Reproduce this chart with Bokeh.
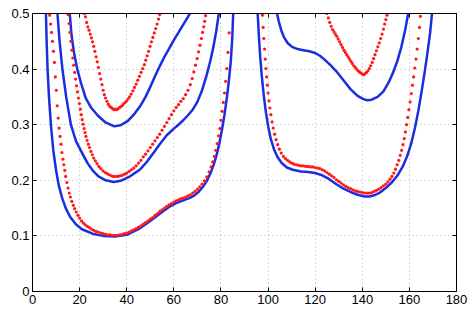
from bokeh.plotting import figure
from bokeh.models import Range1d, FixedTicker, LinearAxis
from bokeh.embed import file_html
from bokeh.resources import INLINE

# ---------------- data ----------------
x_ticks = [0, 20, 40, 60, 80, 100, 120, 140, 160, 180]
x_tick_labels = ["0", "20", "40", "60", "80", "100", "120", "140", "160", "180"]
y_ticks = [0, 0.1, 0.2, 0.3, 0.4, 0.5]
y_tick_labels = ["0", "0.1", "0.2", "0.3", "0.4", "0.5"]

# blue model curves (left / right lobes)
blue1_left_x = [5.7, 6.0, 6.4, 7.0, 7.8, 8.8, 10.0, 11.2, 12.6, 14.1, 16.0, 18.4, 21.0, 25.5, 30, 35, 40, 45, 50, 55,
                58, 61, 64, 66.5, 68.5, 70.5, 72.3, 74.0, 75.6, 77.0, 78.2, 79.3, 80.4, 81.5, 82.5, 83.4, 84.2, 84.8,
                85.2]
blue1_left_y = [0.5, 0.45, 0.40, 0.35, 0.30, 0.255, 0.218, 0.190, 0.168, 0.150, 0.134, 0.121, 0.112, 0.104, 0.100,
                0.099, 0.102, 0.112, 0.127, 0.143, 0.152, 0.159, 0.164, 0.168, 0.172, 0.179, 0.188, 0.199, 0.213,
                0.229, 0.246, 0.266, 0.29, 0.318, 0.348, 0.38, 0.415, 0.455, 0.5]
blue1_right_x = [95.6, 96.1, 96.7, 97.4, 98.2, 99.1, 100.1, 101.2, 102.5, 104.0, 105.8, 108.0, 110.5, 114, 117, 120,
                 123, 126, 129, 132, 135, 138, 141, 143, 145, 147.5, 150, 152.5, 155, 157.2, 159.2, 160.9, 162.4, 163.8,
                 165.2, 166.5, 167.7, 168.8, 169.6]
blue1_right_y = [0.50, 0.46, 0.42, 0.385, 0.352, 0.322, 0.296, 0.274, 0.256, 0.242, 0.231, 0.223, 0.219, 0.216,
                 0.215, 0.213, 0.209, 0.202, 0.193, 0.185, 0.179, 0.174, 0.171, 0.171, 0.173, 0.178, 0.186, 0.196,
                 0.209, 0.225, 0.245, 0.268, 0.295, 0.325, 0.36, 0.395, 0.43, 0.465, 0.5]
blue2_left_x = [10.6, 11.5, 12.7, 14.3, 16.3, 18.5, 21.2, 23.5, 25.5, 28, 31.1, 34.5, 37.4, 41, 45.8, 48.5, 51.5, 54,
                57, 60, 62, 64, 66, 68, 70, 72, 74, 75.5, 76.8, 78.0, 79.1]
blue2_left_y = [0.5, 0.45, 0.40, 0.35, 0.30, 0.27, 0.248, 0.23, 0.218, 0.207, 0.200, 0.197, 0.199, 0.206, 0.220,
                0.233, 0.250, 0.265, 0.281, 0.293, 0.300, 0.308, 0.317, 0.327, 0.341, 0.362, 0.39, 0.415, 0.44,
                0.468, 0.5]
blue2_right_x = [103.8, 104.6, 105.6, 106.8, 108.3, 110.2, 112.5, 115, 117.5, 120, 122, 124, 126.5, 129, 132, 135,
                 138, 140.5, 142, 144, 146.5, 149, 151.2, 153.2, 155, 156.6, 158.1, 159.5]
blue2_right_y = [0.5, 0.485, 0.47, 0.457, 0.447, 0.44, 0.436, 0.434, 0.432, 0.429, 0.424, 0.417, 0.407, 0.396, 0.38,
                 0.364, 0.352, 0.346, 0.344, 0.345, 0.35, 0.36, 0.376, 0.395, 0.416, 0.44, 0.468, 0.5]
blue3_left_x = [15.8, 16.6, 17.6, 19.0, 20.6, 22.6, 25, 27.8, 31, 34.7, 37.4, 40.5, 43, 45.8, 48, 50, 52, 54, 56, 58,
                60, 62, 64, 66, 66.8]
blue3_left_y = [0.5, 0.46, 0.43, 0.40, 0.375, 0.348, 0.33, 0.316, 0.304, 0.297, 0.299, 0.307, 0.318, 0.334, 0.35,
                0.368, 0.387, 0.405, 0.422, 0.437, 0.452, 0.466, 0.48, 0.494, 0.5]

# red measured points
red1_left_x = [7.3, 7.7, 8.1, 8.5, 8.9, 9.3, 9.7, 10.1, 10.5, 10.9, 11.3, 11.7, 12.1, 12.5, 12.9, 13.3, 13.7, 14.1,
               14.6, 15.1, 15.6, 16.1, 16.7, 17.3, 17.9, 18.6, 19.3, 20.0, 20.8, 21.6, 22.4, 23.3, 24.2, 25.1, 26.0,
               27.0, 28.0, 29.0, 30.0, 31.0, 32.0, 33.0, 34.0, 35.0, 36.0, 37.0, 38.0, 39.0, 40.0, 41.0, 42.0, 43.0,
               44.0, 45.0, 46.0, 47.0, 48.0, 49.0, 50.0, 51.0, 52.0, 53.0, 54.0, 55.0, 56.0, 57.0, 58.0, 59.0, 60.0,
               61.0, 62.0, 63.0, 64.0, 65.0, 66.0, 67.0, 68.0, 69.0, 70.0, 71.0, 72.0, 73.0, 74.0, 75.0, 75.8, 76.5,
               77.2, 77.8, 78.4, 79.0, 79.5, 80.0, 80.5, 81.0, 81.5, 82.0, 82.5, 83.0, 83.5]
red1_left_y = [0.497, 0.481, 0.466, 0.450, 0.432, 0.412, 0.386, 0.362, 0.334, 0.312, 0.294, 0.279, 0.265, 0.250,
               0.238, 0.228, 0.218, 0.207, 0.196, 0.186, 0.177, 0.170, 0.162, 0.155, 0.149, 0.143, 0.137, 0.132,
               0.127, 0.123, 0.120, 0.117, 0.115, 0.112, 0.110, 0.108, 0.107, 0.105, 0.104, 0.103, 0.102, 0.102,
               0.101, 0.101, 0.101, 0.102, 0.103, 0.104, 0.105, 0.107, 0.109, 0.111, 0.113, 0.116, 0.118, 0.121,
               0.124, 0.127, 0.130, 0.133, 0.137, 0.140, 0.144, 0.147, 0.150, 0.153, 0.156, 0.158, 0.161, 0.163,
               0.165, 0.167, 0.168, 0.170, 0.172, 0.174, 0.177, 0.180, 0.184, 0.188, 0.193, 0.199, 0.206, 0.215,
               0.224, 0.233, 0.243, 0.254, 0.266, 0.280, 0.293, 0.308, 0.324, 0.340, 0.357, 0.378, 0.401, 0.430,
               0.465]
red2_left_x = [15.1, 15.5, 15.9, 16.3, 16.7, 17.1, 17.5, 17.9, 18.3, 18.7, 19.1, 19.5, 19.9, 20.3, 20.7, 21.1, 21.5,
               21.9, 22.3, 22.7, 23.2, 23.7, 24.2, 24.8, 25.4, 26.0, 26.7, 27.4, 28.2, 29.0, 29.9, 30.8, 31.7, 32.6,
               33.5, 34.4, 35.3, 36.2, 37.1, 38.0, 39.0, 40.0, 41.0, 42.0, 43.0, 44.0, 45.0, 46.0, 47.0, 48.0, 49.0,
               50.0, 51.0, 52.0, 53.0, 54.0, 55.0, 56.0, 57.0, 58.0, 59.0, 60.0, 61.0, 62.0, 63.0, 64.0, 65.0, 66.0,
               67.0, 67.8, 68.5, 69.2, 69.9, 70.5, 71.1, 71.7, 72.2, 72.7, 73.1, 73.5]
red2_left_y = [0.498, 0.482, 0.466, 0.450, 0.434, 0.420, 0.407, 0.394, 0.382, 0.370, 0.359, 0.348, 0.338, 0.328,
               0.318, 0.309, 0.301, 0.293, 0.286, 0.279, 0.272, 0.265, 0.259, 0.252, 0.246, 0.240, 0.235, 0.230,
               0.225, 0.221, 0.217, 0.214, 0.212, 0.210, 0.208, 0.207, 0.207, 0.207, 0.208, 0.209, 0.211, 0.213,
               0.216, 0.219, 0.222, 0.226, 0.231, 0.236, 0.242, 0.247, 0.253, 0.259, 0.265, 0.271, 0.277, 0.283,
               0.290, 0.297, 0.304, 0.311, 0.318, 0.325, 0.331, 0.336, 0.342, 0.347, 0.354, 0.362, 0.372, 0.383,
               0.395, 0.407, 0.419, 0.431, 0.443, 0.455, 0.466, 0.476, 0.486, 0.496]
red3_left_x = [22.0, 22.5, 23.0, 23.5, 24.0, 24.5, 25.0, 25.5, 26.0, 26.5, 27.0, 27.5, 28.0, 28.5, 29.0, 29.5, 30.0,
               30.5, 31.0, 31.6, 32.2, 32.8, 33.4, 34.0, 34.6, 35.2, 35.8, 36.4, 37.0, 37.7, 38.4, 39.1, 39.8, 40.5,
               41.2, 41.9, 42.6, 43.3, 44.0, 44.7, 45.4, 46.1, 46.8, 47.5, 48.1, 48.7, 49.3, 49.9, 50.5, 51.1, 51.7,
               52.3, 52.9, 53.5, 54.0]
red3_left_y = [0.500, 0.494, 0.484, 0.476, 0.470, 0.463, 0.456, 0.449, 0.441, 0.432, 0.422, 0.413, 0.403, 0.392,
               0.382, 0.372, 0.362, 0.354, 0.348, 0.342, 0.337, 0.333, 0.331, 0.329, 0.327, 0.328, 0.327, 0.329,
               0.331, 0.333, 0.336, 0.339, 0.342, 0.346, 0.350, 0.355, 0.361, 0.367, 0.373, 0.380, 0.387, 0.394,
               0.401, 0.408, 0.416, 0.424, 0.432, 0.441, 0.449, 0.457, 0.465, 0.473, 0.481, 0.490, 0.498]
red1_right_x = [97.6, 97.9, 98.2, 98.5, 98.8, 99.1, 99.4, 99.7, 100.0, 100.4, 100.8, 101.2, 101.7, 102.2, 102.8,
                103.4, 104.1, 104.8, 105.6, 106.5, 107.4, 108.3, 109.2, 110.1, 111.0, 112.0, 113.0, 114.0, 115.0,
                116.0, 117.0, 118.0, 119.0, 120.0, 121.0, 122.0, 123.0, 124.0, 125.0, 126.0, 127.0, 128.0, 129.0,
                130.0, 131.0, 132.0, 133.0, 134.0, 135.0, 136.0, 137.0, 138.0, 139.0, 140.0, 141.0, 142.0, 143.0,
                144.0, 145.0, 146.0, 147.0, 148.0, 149.0, 150.0, 150.9, 151.8, 152.6, 153.4, 154.1, 154.8, 155.5,
                156.1, 156.7, 157.3, 157.8, 158.3, 158.8, 159.3, 159.8, 160.3, 160.8, 161.3, 161.8, 162.3, 162.8,
                163.3, 163.8, 164.3, 164.7]
red1_right_y = [0.497, 0.475, 0.455, 0.436, 0.418, 0.401, 0.386, 0.371, 0.357, 0.343, 0.330, 0.318, 0.305, 0.294,
                0.283, 0.273, 0.264, 0.256, 0.249, 0.243, 0.239, 0.236, 0.233, 0.231, 0.229, 0.228, 0.227, 0.226,
                0.226, 0.225, 0.225, 0.224, 0.224, 0.223, 0.222, 0.221, 0.219, 0.217, 0.214, 0.211, 0.208, 0.205,
                0.201, 0.198, 0.195, 0.192, 0.189, 0.187, 0.185, 0.183, 0.181, 0.180, 0.179, 0.178, 0.177, 0.177,
                0.177, 0.178, 0.180, 0.182, 0.184, 0.187, 0.190, 0.193, 0.197, 0.202, 0.207, 0.213, 0.220, 0.228,
                0.236, 0.245, 0.254, 0.264, 0.275, 0.287, 0.300, 0.313, 0.327, 0.341, 0.356, 0.371, 0.386, 0.402,
                0.418, 0.436, 0.455, 0.475, 0.495]
red2_right_x = [125.0, 125.6, 126.2, 126.8, 127.4, 128.0, 128.6, 129.2, 129.8, 130.4, 131.0, 131.6, 132.2, 132.8,
                133.4, 134.0, 134.6, 135.2, 135.8, 136.4, 137.0, 137.6, 138.2, 138.8, 139.4, 140.0, 140.6, 141.2,
                141.8, 142.4, 143.0, 143.6, 144.2, 144.8, 145.4, 146.0, 146.6, 147.2, 147.8, 148.4, 149.0, 149.5,
                150.0, 150.5]
red2_right_y = [0.500, 0.492, 0.484, 0.477, 0.471, 0.467, 0.463, 0.459, 0.454, 0.449, 0.444, 0.439, 0.434, 0.430,
                0.426, 0.422, 0.418, 0.414, 0.410, 0.406, 0.403, 0.400, 0.397, 0.395, 0.393, 0.391, 0.390, 0.392,
                0.394, 0.397, 0.401, 0.406, 0.412, 0.419, 0.426, 0.433, 0.440, 0.447, 0.455, 0.463, 0.472, 0.481,
                0.489, 0.497]

blue_series = [(blue1_left_x, blue1_left_y), (blue1_right_x, blue1_right_y),
               (blue2_left_x, blue2_left_y), (blue2_right_x, blue2_right_y),
               (blue3_left_x, blue3_left_y)]
red_series = [(red1_left_x, red1_left_y), (red2_left_x, red2_left_y), (red3_left_x, red3_left_y),
              (red1_right_x, red1_right_y), (red2_right_x, red2_right_y)]

# ---------------- figure ----------------
FONT = "Liberation Sans"
p = figure(width=474, height=313, output_backend="svg", toolbar_location=None,
           x_range=Range1d(0, 180), y_range=Range1d(0, 0.5),
           min_border_left=32, min_border_right=18, min_border_top=13, min_border_bottom=22)
p.background_fill_color = "white"
p.border_fill_color = "white"
p.outline_line_color = "black"
p.outline_line_width = 1

for ax in (p.xaxis[0], p.yaxis[0]):
    ax.axis_line_color = "black"
    ax.major_tick_in = 4
    ax.major_tick_out = 0
    ax.minor_tick_line_color = None
    ax.major_label_text_font = FONT
    ax.major_label_text_font_size = "13px"
    ax.major_label_text_color = "black"
    ax.major_label_standoff = 3
p.xaxis[0].ticker = FixedTicker(ticks=x_ticks)
p.yaxis[0].ticker = FixedTicker(ticks=y_ticks)
p.xaxis[0].major_label_overrides = {t: l for t, l in zip(x_ticks, x_tick_labels)}
p.yaxis[0].major_label_overrides = {t: l for t, l in zip(y_ticks, y_tick_labels)}

# top and right axes (ticks only, no labels), Matlab box style
top = LinearAxis(ticker=FixedTicker(ticks=x_ticks), major_label_text_color=None,
                 major_tick_in=4, major_tick_out=0, minor_tick_line_color=None,
                 major_label_standoff=0, axis_line_color="black")
right = LinearAxis(ticker=FixedTicker(ticks=y_ticks), major_label_text_color=None,
                   major_tick_in=4, major_tick_out=0, minor_tick_line_color=None,
                   major_label_standoff=0, axis_line_color="black")
p.add_layout(top, "above")
p.add_layout(right, "right")

p.xgrid.ticker = FixedTicker(ticks=x_ticks)
p.ygrid.ticker = FixedTicker(ticks=y_ticks)
for g in (p.xgrid[0], p.ygrid[0]):
    g.grid_line_color = "#b4b4b4"
    g.grid_line_dash = "1 3"
    g.grid_line_width = 1

for bx, by in blue_series:
    p.line(bx, by, line_width=2.5, line_color="#1a2ee0", line_join="round")
for rx, ry in red_series:
    p.scatter(rx, ry, marker="circle", size=3.2, fill_color="#ff1a1a", line_color=None)

open("out.html", "w").write(file_html(p, INLINE))
